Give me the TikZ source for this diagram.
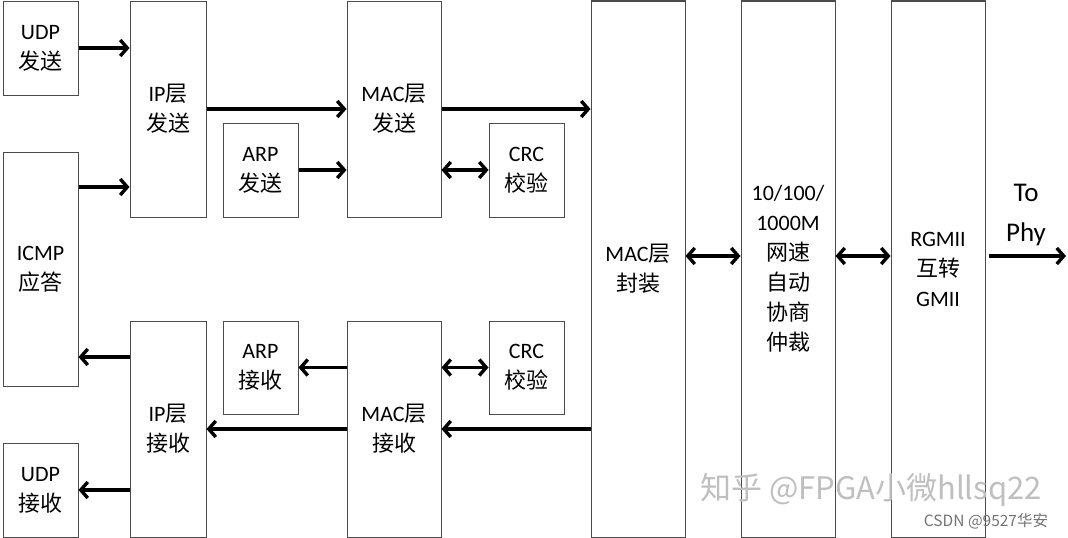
\documentclass[tikz,border=0pt]{standalone}
\usepackage{fontspec}
\setmainfont{Carlito}
\newfontfamily\cjk{Noto Sans CJK SC}
\newcommand{\zh}[1]{{\cjk #1}}
\usetikzlibrary{arrows.meta}

\begin{document}
\begin{tikzpicture}[x=1pt,y=-1pt,>={Straight Barb[length=7pt,width=16pt]},
                box/.style={draw=black!70,line width=1pt,inner sep=0pt,align=center,
                            font=\fontsize{22}{30}\selectfont},
                link/.style={->,line width=3.4pt},
                both/.style={<->,line width=3.4pt}]
\useasboundingbox (0,0) rectangle (1068,538);
%Nodes
    \node[box,minimum width=75pt,minimum height=94pt]  (UDPtx)  at (40.5,48)  {UDP\\\zh{发送}};
    \node[box,minimum width=75pt,minimum height=234pt] (ICMP)   at (40.5,269) {ICMP\\\zh{应答}};
    \node[box,minimum width=75pt,minimum height=94pt]  (UDPrx)  at (40.5,490) {UDP\\\zh{接收}};
    \node[box,minimum width=76pt,minimum height=216pt] (IPtx)   at (168,109)  {IP\zh{层}\\\zh{发送}};
    \node[box,minimum width=76pt,minimum height=216pt] (IPrx)   at (168,429)  {IP\zh{层}\\\zh{接收}};
    \node[box,minimum width=75pt,minimum height=94pt]  (ARPtx)  at (260.5,170) {ARP\\\zh{发送}};
    \node[box,minimum width=75pt,minimum height=93pt]  (ARPrx)  at (260.5,367.5) {ARP\\\zh{接收}};
    \node[box,minimum width=94pt,minimum height=216pt] (MACtx)  at (394,109)  {MAC\zh{层}\\\zh{发送}};
    \node[box,minimum width=94pt,minimum height=216pt] (MACrx)  at (394,429)  {MAC\zh{层}\\\zh{接收}};
    \node[box,minimum width=75pt,minimum height=94pt]  (CRCtx)  at (526.5,170) {CRC\\\zh{校验}};
    \node[box,minimum width=75pt,minimum height=93pt]  (CRCrx)  at (526.5,367.5) {CRC\\\zh{校验}};
    \node[box,minimum width=94pt,minimum height=536pt] (MACpkt) at (638,269)  {MAC\zh{层}\\\zh{封装}};
    \node[box,minimum width=94pt,minimum height=536pt] (Neg)    at (788,269)  {10/100/\\1000M\\\zh{网速}\\\zh{自动}\\\zh{协商}\\\zh{仲裁}};
    \node[box,minimum width=94pt,minimum height=536pt] (RGMII)  at (938,269)  {RGMII\\\zh{互转}\\GMII};
    \node[align=center,font=\fontsize{27}{40}\selectfont] (ToPhy) at (1026,215) {To\\Phy};
    \coordinate (phy) at (1066,256);
%Lines
    \draw[link] (UDPtx.east) -- (UDPtx.east -| IPtx.west);
    \draw[link] ([yshift=82pt]ICMP.east) -- ([yshift=82pt]ICMP.east -| IPtx.west);
    \draw[link] (IPtx.east) -- (IPtx.east -| MACtx.west);
    \draw[link] (ARPtx.east) -- (ARPtx.east -| MACtx.west);
    \draw[link] (MACtx.east) -- (MACtx.east -| MACpkt.west);
    \draw[both] (CRCtx.west -| MACtx.east) -- (CRCtx.west);
    \draw[link] ([yshift=72pt]IPrx.west) -- ([yshift=72pt]IPrx.west -| ICMP.east);
    \draw[link] (UDPrx.east -| IPrx.west) -- (UDPrx.east);
    \draw[link] (ARPrx.east -| MACrx.west) -- (ARPrx.east);
    \draw[link] (MACrx.west) -- (IPrx.east);
    \draw[both] (CRCrx.west -| MACrx.east) -- (CRCrx.west);
    \draw[link] (MACrx.east -| MACpkt.west) -- (MACrx.east);
    \draw[both] ([yshift=13pt]MACpkt.east) -- ([yshift=13pt]Neg.west);
    \draw[both] ([yshift=13pt]Neg.east) -- ([yshift=13pt]RGMII.west);
    \draw[link] ([xshift=3pt,yshift=13pt]RGMII.east) -- (phy);
%Watermarks
    \node[text=black!25,font=\cjk\fontsize{31}{31}\selectfont] (zhihu) at (871,490) {知乎 @FPGA小微hllsq22};
    \node[text=black!55,font=\cjk\fontsize{15.5}{15.5}\selectfont] (csdn) at (986,521) {CSDN @9527华安};
\end{tikzpicture}
\end{document}
